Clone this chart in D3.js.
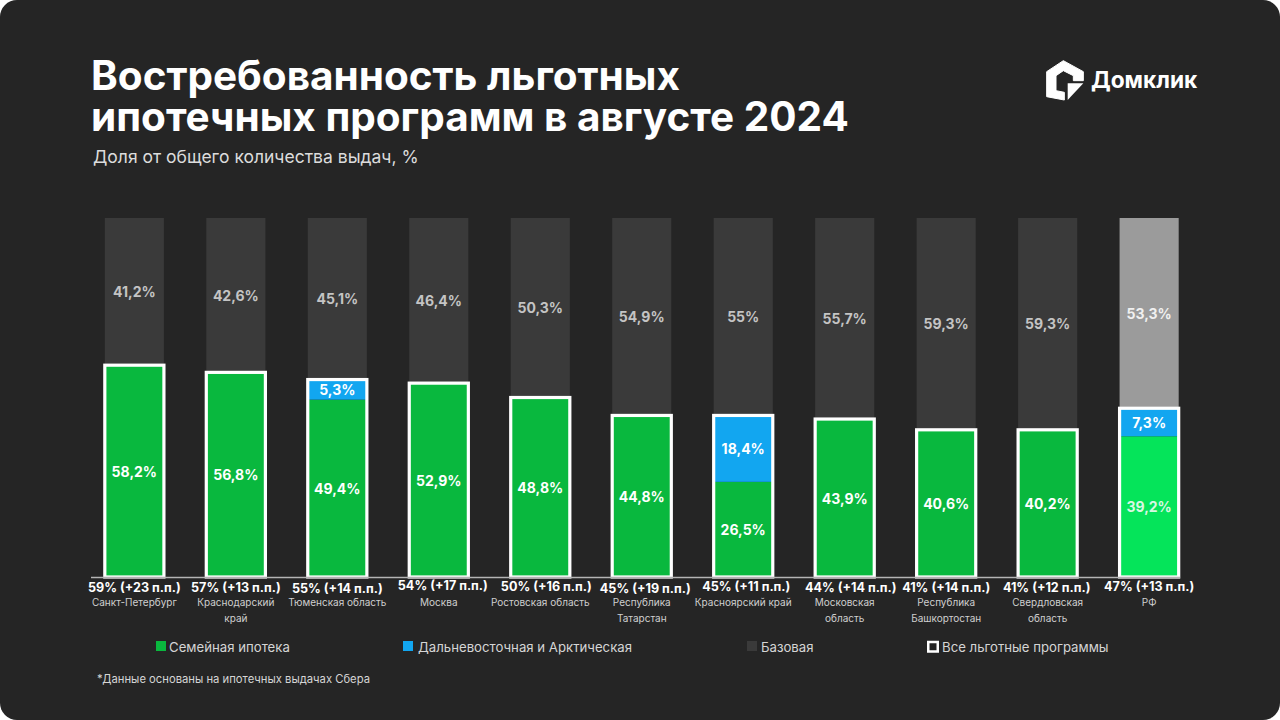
<!DOCTYPE html>
<html lang="ru"><head><meta charset="utf-8">
<script src="https://cdn.jsdelivr.net/npm/d3@7"></script>
<style>html,body{margin:0;padding:0;background:#fff;overflow:hidden}svg{display:block}text{font-family:Inter,"Noto Sans",sans-serif}</style>
</head><body><svg id="c" width="1280" height="720"></svg>
<script>
const regions=[["Санкт-Петербург"],["Краснодарский","край"],["Тюменская область"],["Москва"],["Ростовская область"],["Республика","Татарстан"],["Красноярский край"],["Московская","область"],["Республика","Башкортостан"],["Свердловская","область"],["РФ"]];
const familyShare=[58.2,56.8,49.4,52.9,48.8,44.8,26.5,43.9,40.6,40.2,39.2];
const farEastShare=[0,0,5.3,0,0,0,18.4,0,0,0,7.3];
const baseShare=[41.2,42.6,45.1,46.4,50.3,54.9,55,55.7,59.3,59.3,53.3];
const totalShare=[59,57,55,54,50,45,45,44,41,41,47];
const totalChange=[23,13,14,17,16,19,11,14,14,12,13];
const legendNames=["Семейная ипотека","Дальневосточная и Арктическая","Базовая","Все льготные программы"];
const titleLines=["Востребованность льготных","ипотечных программ в августе 2024"];
const totalLabelDx=[0,0,0,4,6,3.5,3,6,0,-1,0];
const totalLabelDy=[0,0,1,-2,-1,1,-1,0,0,0,-1];

const svg=d3.select("#c");
svg.append("rect").attr("width",1280).attr("height",720).attr("rx",17).attr("fill","#252525");
const idx=d3.range(regions.length);
const x=d3.scaleBand().domain(idx).range([83.5,1200]).paddingInner(0.4175).paddingOuter(0.21);
const y=d3.scaleLinear().domain([0,100]).range([577,218]);
const fmt=v=>String(v).replace(".",",")+"%";
const last=idx[idx.length-1];
const cGreen=i=>i===last?"#05e45a":"#09b83e";
const cBase=i=>i===last?"#9b9b9b":"#3a3a3a";
const cBlue="#12a6f0";

const g=svg.selectAll("g.bar").data(idx).join("g").attr("class","bar");
g.append("rect").attr("x",i=>x(i)).attr("width",x.bandwidth()).attr("y",y(100)).attr("height",i=>y(totalShare[i])-y(100)).attr("fill",cBase);
g.append("rect").attr("x",i=>x(i)).attr("width",x.bandwidth())
 .attr("y",i=>y(farEastShare[i]?familyShare[i]:totalShare[i]))
 .attr("height",i=>y(0)-y(farEastShare[i]?familyShare[i]:totalShare[i])).attr("fill",cGreen);
g.filter(i=>farEastShare[i]>0).append("rect").attr("x",i=>x(i)).attr("width",x.bandwidth())
 .attr("y",i=>y(totalShare[i])).attr("height",i=>y(familyShare[i])-y(totalShare[i])).attr("fill",cBlue);
g.append("rect").attr("x",i=>x(i)).attr("width",x.bandwidth()).attr("y",i=>y(totalShare[i])).attr("height",i=>y(0)-y(totalShare[i]))
 .attr("fill","none").attr("stroke","#fff").attr("stroke-width",3.2);

const val=(sel)=>sel.attr("text-anchor","middle").attr("dominant-baseline","central").attr("font-size",14).attr("font-weight",700);
val(g.append("text")).attr("x",i=>x(i)+x.bandwidth()/2).attr("y",i=>(y(100)+y(totalShare[i]))/2).attr("fill",i=>i===last?"#f0f0f0":"#c4c4c4").text(i=>fmt(baseShare[i]));
val(g.append("text")).attr("x",i=>x(i)+x.bandwidth()/2).attr("y",i=>(y(0)+y(farEastShare[i]?familyShare[i]:totalShare[i]))/2).attr("fill",i=>i===last?"#d8f7e2":"#fff").text(i=>fmt(familyShare[i]));
val(g.filter(i=>farEastShare[i]>0).append("text")).attr("x",i=>x(i)+x.bandwidth()/2).attr("y",i=>(y(familyShare[i])+y(totalShare[i]))/2).attr("fill","#fff").text(i=>fmt(farEastShare[i]));

// axis: baseline and region labels
const axis=svg.append("g").attr("transform",`translate(0,${y(0)})`).call(d3.axisBottom(x).tickSize(0).tickPadding(0).tickFormat(()=>""));
axis.select(".domain").attr("stroke","#b5b5b5").attr("stroke-width",1.5).attr("d","M91,0.5H1180");
axis.selectAll(".tick").each(function(i){
  const t=d3.select(this);
  t.select("text").remove();
  t.append("text").attr("text-anchor","middle").attr("x",totalLabelDx[i]).attr("y",15+totalLabelDy[i]).attr("fill","#fff").attr("font-size",12.6).attr("font-weight",700)
   .text(`${totalShare[i]}% (+${totalChange[i]} п.п.)`);
  regions[i].forEach((line,k)=>t.append("text").attr("text-anchor","middle").attr("y",29+k*15.5).attr("fill","#cfcfcf").attr("font-size",10).text(line));
});

// title
svg.append("text").attr("fill","#fff").attr("font-size",40.5).attr("font-weight",700)
 .selectAll("tspan").data(titleLines).join("tspan").attr("x",91).attr("y",(d,i)=>90+i*41).text(d=>d);
svg.append("text").attr("x",93).attr("y",163).attr("fill","#dcdcdc").attr("font-size",17.5).text("Доля от общего количества выдач, %");

// legend
const lx=[156,403,747,927], tx=[169,418,761,942];
const lg=svg.selectAll("g.lg").data(legendNames).join("g").attr("class","lg");
lg.append("rect").attr("x",(d,i)=>lx[i]+(i===3?1.25:0)).attr("width",(d,i)=>i===3?9.5:10).attr("height",(d,i)=>i===3?9.5:10)
 .attr("y",(d,i)=>i===3?642:641).attr("fill",(d,i)=>["#09b83e",cBlue,"#3a3a3a","none"][i]).attr("stroke",(d,i)=>i===3?"#fff":"none").attr("stroke-width",2.5);
lg.append("text").attr("x",(d,i)=>tx[i]).attr("y",652).attr("fill","#d5d5d5").attr("font-size",13.2).text(d=>d);
svg.append("text").attr("x",97).attr("y",683).attr("fill","#d5d5d5").attr("font-size",11.25).text("*Данные основаны на ипотечных выдачах Сбера");

// logo
const L=(a,b)=>[1020+a/3,40+b/3];
const pts=a=>a.map(p=>L(p[0],p[1]).join(",")).join(" L");
svg.append("path").attr("fill","#fff").attr("stroke","#fff").attr("stroke-width",1).attr("stroke-linejoin","round").attr("d",
 "M"+pts([[130,62],[190,95],[190,122],[160,122],[160,107],[130,92],[108,107],[108,152],[133,157],[133,180],[80,170],[80,95]])+"Z");
svg.append("path").attr("fill","#fff").attr("d","M"+pts([[143,130],[190,130],[143,180]])+"Z");
svg.append("text").attr("x",1091).attr("y",88).attr("fill","#fff").attr("font-size",22.7).attr("font-weight",700).text("Домклик");
</script></body></html>
